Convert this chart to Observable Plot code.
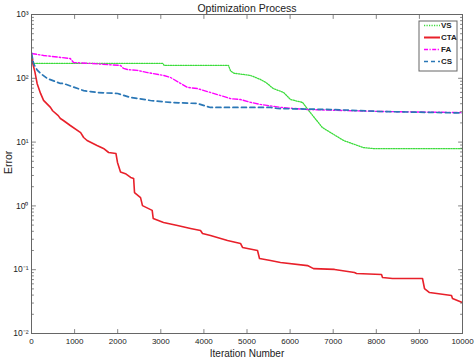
<!DOCTYPE html>
<html><head><meta charset="utf-8">
<script src="https://cdn.jsdelivr.net/npm/d3@7"></script>
<script src="https://cdn.jsdelivr.net/npm/@observablehq/plot@0.6"></script>
<style>
body{margin:0;background:#fff}
#wrap{position:relative;width:474px;height:359px;overflow:hidden}
#wrap svg{display:block}
</style>
</head><body><div id="wrap"></div>
<script>
// ---- data ----
const seriesNames = ["VS", "CTA", "FA", "CS"];
const seriesColors = ["#3cdc3c", "#e8202a", "#ff00ff", "#2a77b6"];

const vsIter = [0, 3050, 3080, 4570, 4620, 4700, 5080, 5310, 5450, 5610, 5850, 6010, 6290, 6430, 6750, 6940, 7240, 7700, 7940, 10000];
const vsErr  = [171, 171, 159, 159, 130, 120, 111, 96, 85, 69, 60, 46.5, 41.8, 31.3, 16.9, 14.1, 10.6, 8.2, 7.9, 7.9];

const ctaIter = [0, 40, 80, 130, 210, 280, 440, 490, 620, 670, 740, 900, 1140, 1210, 1290, 1520, 1670, 1790, 1960, 1995, 2065, 2180, 2300, 2370, 2390, 2530, 2575, 2800, 2824, 3063, 3387, 3689, 3921, 3968, 4153, 4548, 4849, 4896, 5244, 5290, 5545, 5777, 6404, 6543, 7030, 7494, 7541, 8121, 8144, 8376, 9072, 9118, 9234, 9745, 9768, 10000];
const ctaErr  = [228, 160, 125, 83, 58, 45, 35, 31, 26, 23.4, 21.8, 18.2, 14.1, 11.8, 10.6, 8.85, 7.94, 6.87, 6.62, 4.8, 3.4, 3.2, 2.79, 2.69, 1.62, 1.35, 1.01, 0.85, 0.635, 0.55, 0.493, 0.443, 0.411, 0.369, 0.343, 0.287, 0.258, 0.223, 0.2, 0.15, 0.139, 0.13, 0.116, 0.104, 0.101, 0.0904, 0.0871, 0.0841, 0.0755, 0.0728, 0.0728, 0.0507, 0.0439, 0.0394, 0.0354, 0.0306];

const faIter = [0, 280, 900, 975, 1370, 2065, 2135, 2230, 2460, 2690, 3063, 3225, 3620, 3850, 4150, 4620, 4850, 5080, 5310, 5780, 6400, 8100, 10000];
const faErr  = [245, 228, 204, 177, 171, 159, 143, 137, 133, 123, 111, 103, 72, 69, 60, 48, 46.5, 42, 39, 35, 32.4, 30.2, 29];

const csIter = [0, 46, 93, 140, 210, 370, 670, 740, 1210, 1370, 1530, 2000, 2300, 2760, 3225, 3850, 4150, 5080, 5550, 5710, 6940, 8100, 10000];
const csErr  = [250, 171, 148, 133, 119, 99, 83, 83, 64, 62, 59.8, 57.8, 50, 44.9, 41.8, 40.3, 34.9, 34.9, 34.9, 33.6, 32.4, 30.2, 28.6];

const xTicks = [0, 1000, 2000, 3000, 4000, 5000, 6000, 7000, 8000, 9000, 10000];
const yMajor = [0.01, 0.1, 1, 10, 100, 1000];

const titleText = "Optimization Process";
const xLabel = "Iteration Number";
const yLabel = "Error";

// ---- build ----
const toRows = (name, it, er) => it.map((x, i) => ({series: name, iter: x, err: er[i]}));
const vsRows = toRows("VS", vsIter, vsErr);
const ctaRows = toRows("CTA", ctaIter, ctaErr);
const faRows = toRows("FA", faIter, faErr);
const csRows = toRows("CS", csIter, csErr);

const yMinor = [];
for (let e = -2; e < 3; e++) for (let k = 2; k <= 9; k++) yMinor.push(k * Math.pow(10, e));

const axisColor = "#666";
const textColor = "#222";
const font = "'Liberation Sans', Arial, Helvetica, sans-serif";
const tickShape = {draw(ctx, l) { ctx.moveTo(0, 0); ctx.lineTo(0, -l); }};
const sup = {"0":"⁰","1":"¹","2":"²","3":"³","4":"⁴","-":"⁻"};
const fmtY = d => "10" + String(Math.round(Math.log10(d))).split("").map(c => sup[c]).join("");

const tick = (data, opts) => Plot.vector(data, {anchor: "start", shape: tickShape, stroke: axisColor, strokeWidth: 0.8, ...opts});

const chart = Plot.plot({
  width: 474, height: 359,
  marginLeft: 31, marginRight: 12, marginTop: 14, marginBottom: 26,
  style: {fontFamily: font, background: "#fff", overflow: "visible"},
  x: {domain: [0, 10000]},
  y: {type: "log", domain: [0.01, 1000]},
  marks: [
    Plot.line(vsRows, {x: "iter", y: "err", stroke: seriesColors[0], strokeWidth: 1.3, strokeDasharray: "1.2,1.3", clip: true}),
    Plot.line(ctaRows, {x: "iter", y: "err", stroke: seriesColors[1], strokeWidth: 1.6, clip: true}),
    Plot.line(faRows, {x: "iter", y: "err", stroke: seriesColors[2], strokeWidth: 1.4, strokeDasharray: "5,2,1.5,2", clip: true}),
    Plot.line(csRows, {x: "iter", y: "err", stroke: seriesColors[3], strokeWidth: 1.7, strokeDasharray: "5,3.5", clip: true}),
    Plot.frame({stroke: axisColor, strokeWidth: 1}),
    tick(xTicks, {x: d => d, frameAnchor: "bottom", length: 4, rotate: 0}),
    tick(xTicks, {x: d => d, frameAnchor: "top", length: 4, rotate: 180}),
    tick(yMajor, {y: d => d, frameAnchor: "left", length: 4, rotate: 90}),
    tick(yMajor, {y: d => d, frameAnchor: "right", length: 4, rotate: -90}),
    tick(yMinor, {y: d => d, frameAnchor: "left", length: 2, rotate: 90}),
    tick(yMinor, {y: d => d, frameAnchor: "right", length: 2, rotate: -90}),
    Plot.axisX({ticks: xTicks, tickSize: 0, tickPadding: 5, tickFormat: d => String(d), label: null, fontSize: 8, fill: textColor}),
    Plot.axisY({ticks: yMajor, tickSize: 0, tickPadding: 3, tickFormat: fmtY, label: null, fontSize: 8.5, fill: textColor}),
    Plot.text([titleText], {frameAnchor: "top", dy: -10, fontSize: 10.5, fill: textColor}),
    Plot.text([xLabel], {frameAnchor: "bottom", dy: 23, fontSize: 10, fill: textColor}),
    Plot.text([yLabel], {frameAnchor: "left", dx: -23, rotate: -90, fontSize: 10.5, fill: textColor})
  ]
});
document.getElementById("wrap").appendChild(chart);

// ---- legend (inside plot, top-right) ----
const svg = d3.select(chart);
const lg = svg.append("g").attr("transform", "translate(419,21)").style("font-family", font).attr("text-anchor", "start");
lg.append("rect").attr("width", 38).attr("height", 50).attr("fill", "#fff").attr("stroke", axisColor).attr("stroke-width", 1);
const dashes = ["1.2,1.3", null, "4,1.5,1.2,1.5", "4,3"];
const widths = [1.3, 2, 1.4, 1.7];
seriesNames.forEach((name, i) => {
  const y = 4.5 + i * 12;
  lg.append("line").attr("x1", 5).attr("x2", 21).attr("y1", y).attr("y2", y)
    .attr("stroke", seriesColors[i]).attr("stroke-width", widths[i]).attr("stroke-dasharray", dashes[i]);
  lg.append("text").attr("x", 22).attr("y", y).attr("dy", "0.35em").attr("text-anchor", "start")
    .attr("font-size", 8).attr("font-weight", "bold").attr("fill", textColor).text(name);
});
</script>
</body></html>
